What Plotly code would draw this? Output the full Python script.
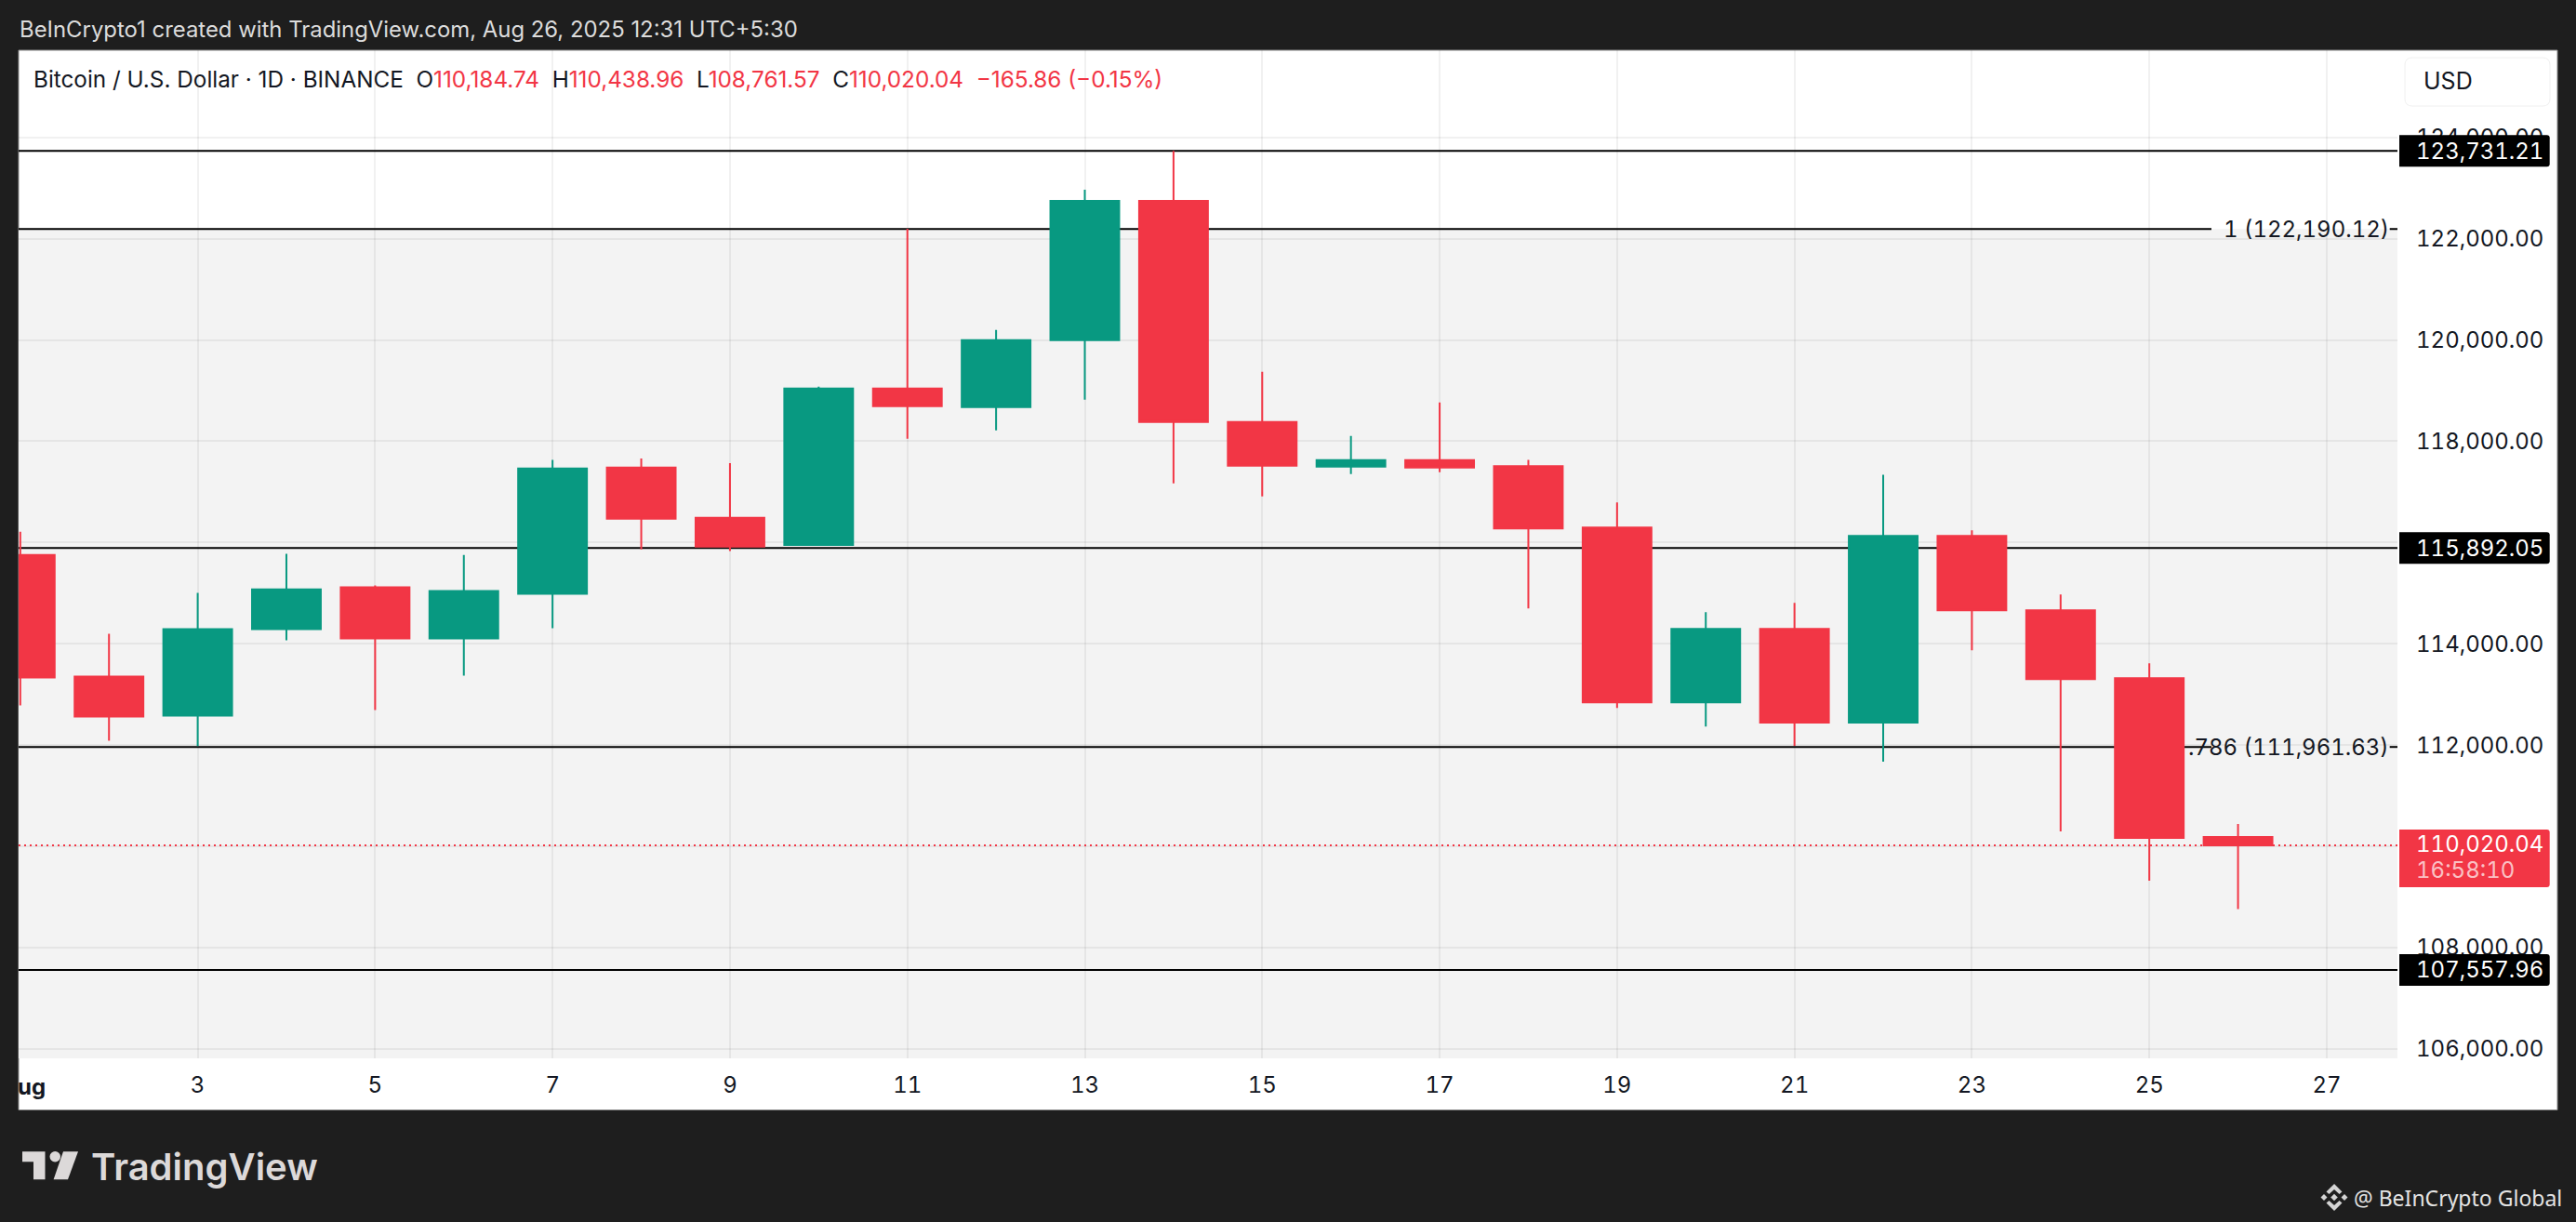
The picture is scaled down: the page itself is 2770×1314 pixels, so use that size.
'''
BTC/USD daily candles with fib levels, TradingView style
'''
import plotly.graph_objects as go

days = list(range(1, 27))
opens = [115755, 113352, 112581, 114288, 115113, 114104, 114985, 117480, 116489, 115950,
         119040, 118673, 119994, 122746, 118379, 117499, 117627, 117505, 116294, 112844,
         114294, 112441, 116128, 114661, 113321, 110184.74]
highs = [116214, 114196, 115003, 115774, 115150, 115755, 117629, 117660, 117567, 119077,
         122196, 120196, 122966, 123731.21, 119370, 118104, 118765, 117633, 116789, 114624,
         114807, 117339, 116239, 114973, 113615, 110438.96]
lows = [112783, 112086, 111980, 114067, 112691, 113370, 114306, 115865, 115829, 115940,
        118049, 118214, 118820, 117168, 116911, 117352, 117388, 114697, 112734, 112367,
        111982, 111670, 113872, 110294, 109321, 108761.57]
closes = [113333, 112563, 114288, 115076, 114104, 115040, 117462, 116471, 115920, 119040,
          118691, 119994, 122746, 118379, 117517, 117627, 117480, 116275, 112844, 114294,
          112441, 116128, 114661, 113303, 110165, 110020.04]

x_ticks = list(range(3, 28, 2))
y_ticks = list(range(106000, 126000, 2000))
full_levels = [123731.21, 115892.05, 107557.96]
fib_levels = [122190.12, 111961.63]
fib_labels = ['1 (122,190.12)', '.786 (111,961.63)']
fib_label_left = [2389, 2351]
tag_levels = [123731.21, 115892.05, 107557.96]
tag_labels = ['123,731.21', '115,892.05', '107,557.96']
last_price = 110020.04
last_label = '110,020.04'
countdown = '16:58:10'

W, H = 2770, 1314
PLOT_L, PLOT_R, PLOT_T, PLOT_B = 20, 2578, 54, 1138
X_RANGE = [0.981, 27.797]
Y_RANGE = [105813, 125721]
FIB_GAP = [25.70, 27.71]

DARK = '#1e1e1e'
INK = '#131722'
RED = '#f23645'
GREEN = '#089981'
FONT = 'Inter'
SIZE = 24


def px_x(p):
    return (p - PLOT_L) / (PLOT_R - PLOT_L)


def px_y(p):
    return 1 - (p - PLOT_T) / (PLOT_B - PLOT_T)


def paper_path(points):
    cmds = [('M' if i == 0 else 'L') + f'{px_x(a):.5f},{px_y(b):.5f}' for i, (a, b) in enumerate(points)]
    return ' '.join(cmds) + ' Z'


def label(x, y, text, color=INK, size=SIZE, anchor='left', yref='paper', font=FONT, weight=None, yshift=0):
    fig.add_annotation(x=x, y=y, xref='paper', yref=yref, text=text, showarrow=False,
                       xanchor=anchor, yanchor='middle', align='left', yshift=yshift,
                       font=dict(family=font, size=size, color=color, weight=weight))


fig = go.Figure()
fig.add_trace(go.Candlestick(
    x=days, open=opens, high=highs, low=lows, close=closes,
    whiskerwidth=0,
    increasing=dict(line=dict(color=GREEN, width=2), fillcolor=GREEN),
    decreasing=dict(line=dict(color=RED, width=2), fillcolor=RED),
    showlegend=False, hoverinfo='skip',
))

# white chart panel behind everything
fig.add_shape(type='rect', xref='paper', yref='paper', layer='below',
              x0=px_x(20), x1=px_x(2750), y0=px_y(1193.5), y1=px_y(54),
              fillcolor='white', line=dict(color='#8a8a8a', width=1))
# grey fib zone
fig.add_shape(type='rect', xref='x', yref='y', layer='below',
              x0=X_RANGE[0], x1=X_RANGE[1], y0=Y_RANGE[0], y1=fib_levels[0],
              fillcolor='#f3f3f3', line_width=0)

for level in full_levels:
    fig.add_shape(type='line', xref='x', yref='y', layer='between',
                  x0=X_RANGE[0], x1=X_RANGE[1], y0=level, y1=level,
                  line=dict(color='black', width=2))
for level in fib_levels:
    for x0, x1 in ((X_RANGE[0], FIB_GAP[0]), (FIB_GAP[1], X_RANGE[1])):
        fig.add_shape(type='line', xref='x', yref='y', layer='between',
                      x0=x0, x1=x1, y0=level, y1=level,
                      line=dict(color='black', width=2))
fig.add_shape(type='line', xref='x', yref='y', layer='between',
              x0=X_RANGE[0], x1=X_RANGE[1], y0=last_price, y1=last_price,
              line=dict(color=RED, width=2, dash='2px,4px'))


def price_tag(level, below, above, color):
    # right side rounded tag, height given in pixels around the level
    r = 3
    left, right = px_x(2580), 2741.7 - 2580
    path = (f'M0,{above} L{right - r},{above} Q{right},{above} {right},{above - r} '
            f'L{right},{below + r} Q{right},{below} {right - r},{below} L0,{below} Z')
    fig.add_shape(type='path', layer='above', xref='paper', yref='y',
                  xsizemode='pixel', ysizemode='pixel', xanchor=left, yanchor=level,
                  path=path, fillcolor=color, line_width=0)


for level, text in zip(tag_levels, tag_labels):
    price_tag(level, -17, 17, 'black')
    label(px_x(2596), level, text, color='white', yref='y')

price_tag(last_price, -45, 17, RED)
label(px_x(2596), last_price, last_label, color='white', yref='y', yshift=1)
label(px_x(2596), last_price, countdown, color='rgba(255,255,255,0.7)', yref='y', yshift=-27)

for level, text, left in zip(fib_levels, fib_labels, fib_label_left):
    label(px_x(left), level, text, yref='y')

# USD box, rounded
r = 8
x0, x1, y0, y1 = px_x(2586), px_x(2742), px_y(62), px_y(114)
rx, ry = r / (PLOT_R - PLOT_L), r / (PLOT_B - PLOT_T)
fig.add_shape(type='path', xref='paper', yref='paper', layer='above',
              path=(f'M{x0 + rx},{y0} L{x1 - rx},{y0} Q{x1},{y0} {x1},{y0 - ry} L{x1},{y1 + ry} '
                    f'Q{x1},{y1} {x1 - rx},{y1} L{x0 + rx},{y1} Q{x0},{y1} {x0},{y1 + ry} '
                    f'L{x0},{y0 - ry} Q{x0},{y0} {x0 + rx},{y0} Z'),
              fillcolor='white', line=dict(color='#f0f0f0', width=1))
label(px_x(2604), px_y(87), 'USD', size=25)

# header and legend
label(px_x(19), px_y(32), 'BeInCrypto1 created with TradingView.com, Aug 26, 2025 12:31 UTC+5:30',
      color='#dcdcdc', size=23.9)
sp = '&nbsp;&nbsp;'
legend_text = (
    f'Bitcoin / U.S. Dollar · 1D · BINANCE{sp}'
    f'O<span style="color:{RED}">110,184.74</span>{sp}'
    f'H<span style="color:{RED}">110,438.96</span>{sp}'
    f'L<span style="color:{RED}">108,761.57</span>{sp}'
    f'C<span style="color:{RED}">110,020.04</span>{sp}'
    f'<span style="color:{RED}">−165.86 (−0.15%)</span>'
)
label(px_x(34), px_y(85.5), legend_text, size=24.3)

# clipped first date label
label(px_x(17), px_y(1168), '<b>ug</b>')

# footer logo and credit
logo = '#dcd9d9'
for pts in ([(24, 1238.3), (48.5, 1238.3), (48.5, 1268.3), (36, 1268.3), (36, 1249.3), (24, 1249.3)],
            [(68, 1238.3), (84, 1238.3), (73, 1268.3), (57.6, 1268.3)]):
    fig.add_shape(type='path', xref='paper', yref='paper', path=paper_path(pts),
                  fillcolor=logo, line_width=0)
fig.add_shape(type='circle', xref='paper', yref='paper', x0=px_x(53.5), x1=px_x(65),
              y0=px_y(1249.5), y1=px_y(1238), fillcolor=logo, line_width=0)
label(px_x(96), px_y(1254), 'TradingView', color=logo, size=40, weight=600)

# binance style credit icon
icon = '#d4d4d4'
cx, cy = 2510, 1287.5
icon_parts = [
    [(-14.5, 0), (-11, -3.5), (-7.5, 0), (-11, 3.5)],
    [(7.5, 0), (11, -3.5), (14.5, 0), (11, 3.5)],
    [(-3.8, 0), (0, -3.8), (3.8, 0), (0, 3.8)],
    [(0, -14.5), (8.5, -6), (5.5, -3.5), (0, -8.5), (-5.5, -3.5), (-8.5, -6)],
    [(0, 14.5), (8.5, 6), (5.5, 3.5), (0, 8.5), (-5.5, 3.5), (-8.5, 6)],
]
for part in icon_parts:
    fig.add_shape(type='path', xref='paper', yref='paper', fillcolor=icon, line_width=0,
                  path=paper_path([(cx + a, cy + b) for a, b in part]))
label(px_x(2529), px_y(1288), '@ BeInCrypto Global', color='#e3e3e3', size=23, font='Noto Sans')

fig.update_layout(
    width=W, height=H,
    margin=dict(l=PLOT_L, r=W - PLOT_R, t=PLOT_T, b=H - PLOT_B, pad=0),
    paper_bgcolor=DARK, plot_bgcolor='rgba(0,0,0,0)',
    boxgap=0.225, boxgroupgap=0,
    showlegend=False,
    font=dict(family=FONT, size=SIZE, color=INK),
    xaxis=dict(range=X_RANGE, tickmode='array', tickvals=x_ticks, ticktext=[str(t) for t in x_ticks],
               rangeslider=dict(visible=False), showgrid=True, gridcolor='rgba(0,0,0,0.055)', gridwidth=2,
               zeroline=False, showline=False, ticks='', ticklabelstandoff=12, tickangle=0),
    yaxis=dict(range=Y_RANGE, side='right', tickmode='array', tickvals=y_ticks,
               ticktext=[f'{t:,.2f}' for t in y_ticks],
               showgrid=True, gridcolor='rgba(0,0,0,0.055)', gridwidth=2,
               zeroline=False, showline=False, ticks='', ticklabelstandoff=19),
)

# page margin off, tabular digits on the price scale style text
post = f"""
document.body.style.margin='0';document.body.style.background='{DARK}';
document.querySelectorAll('svg text').forEach(function(t){{
  if(t.style.fontSize==='{SIZE}px'){{t.style.fontVariantNumeric='tabular-nums';}}
}});
"""
fig.write_html('out.html', post_script=post, config={'displayModeBar': False})
